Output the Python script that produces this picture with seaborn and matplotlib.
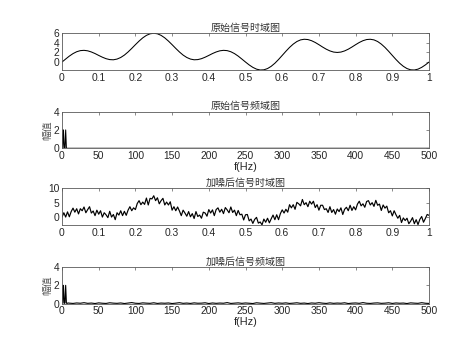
import numpy as np
import pandas as pd
import matplotlib
matplotlib.use("Agg")
import matplotlib.pyplot as plt
import seaborn as sns

# --- data ---
# original signal, sampled every 0.01 s
T_CLEAN = np.round(np.arange(0, 1.0001, 0.01), 3)
SIG_CLEAN = [0.00, 0.63, 1.24, 1.76, 2.15, 2.38, 2.44, 2.34, 2.10, 1.77,
             1.38, 1.01, 0.70, 0.51, 0.47, 0.62, 0.95, 1.45, 2.10, 2.84,
             3.62, 4.37, 5.04, 5.56, 5.89, 6.00, 5.89, 5.56, 5.04, 4.37,
             3.62, 2.84, 2.10, 1.45, 0.95, 0.62, 0.47, 0.51, 0.70, 1.01,
             1.38, 1.77, 2.10, 2.34, 2.44, 2.38, 2.15, 1.76, 1.24, 0.63,
             0.00, -0.60, -1.11, -1.48, -1.66, -1.62, -1.36, -0.89, -0.25, 0.53,
             1.38, 2.24, 3.05, 3.74, 4.28, 4.62, 4.75, 4.69, 4.45, 4.08,
             3.62, 3.13, 2.68, 2.32, 2.08, 2.00, 2.08, 2.32, 2.68, 3.13,
             3.62, 4.08, 4.45, 4.69, 4.75, 4.62, 4.28, 3.74, 3.05, 2.24,
             1.38, 0.53, -0.25, -0.89, -1.36, -1.62, -1.66, -1.48, -1.11, -0.60,
             0.00]

# noisy signal, sampled every 0.005 s
T_NOISY = np.round(np.arange(0, 1.0001, 0.005), 4)
SIG_NOISY = [0.0, 1.5, 0.0, 1.8, 0.1, 1.9, 3.1, 1.7, 2.9, 1.1,
             2.9, 2.2, 3.5, 1.5, 2.6, 3.6, 1.4, 2.1, 0.5, 2.4,
             1.0, 2.2, 0.0, 1.5, 0.8, -0.2, 2.0, 0.0, 0.9, -0.9,
             1.5, 0.7, 2.2, 0.5, 2.0, 0.6, 2.4, 3.6, 2.2, 3.2,
             2.6, 4.7, 5.7, 4.3, 5.2, 4.4, 6.6, 4.2, 6.5, 6.3,
             7.4, 5.7, 6.7, 4.6, 5.7, 6.5, 4.2, 5.2, 4.2, 5.3,
             2.4, 3.6, 2.2, 3.5, 2.1, 0.5, 2.4, 1.4, 0.3, 1.9,
             0.1, 1.2, -0.5, 1.9, 0.2, 0.7, -0.4, 1.7, 1.4, 0.3,
             2.6, 1.4, 2.5, 0.5, 2.6, 3.2, 1.7, 2.7, 1.2, 3.3,
             2.5, 1.5, 3.5, 1.6, 2.4, 0.5, 2.3, 0.8, 1.0, -1.0,
             0.8, 0.9, -1.3, -0.7, -2.2, -0.8, -0.1, -2.1, -1.7, -2.7,
             -0.7, -1.8, -0.4, -2.0, -0.6, 0.7, -0.9, 0.8, -0.9, 1.2,
             2.5, 1.4, 2.7, 1.7, 4.3, 3.2, 4.3, 2.7, 5.1, 4.6,
             3.9, 6.1, 4.3, 5.0, 3.6, 5.5, 4.5, 5.5, 3.3, 4.3,
             2.4, 4.1, 4.1, 2.6, 2.9, 1.6, 3.6, 1.6, 2.6, 1.0,
             2.8, 1.9, 3.2, 0.9, 2.7, 3.4, 2.2, 4.1, 2.3, 3.6,
             2.5, 4.5, 5.5, 3.9, 4.6, 3.4, 5.4, 5.7, 4.2, 5.0,
             3.7, 5.8, 4.1, 4.5, 2.3, 4.2, 3.1, 3.8, 1.5, 2.2,
             0.4, 2.2, 0.8, -0.4, 0.6, -1.9, -0.3, -1.2, -0.4, -2.3,
             -1.4, -0.2, -2.3, -0.9, -2.6, -0.8, 0.2, -1.8, -0.5, 0.9,
             0.6]

# spectra (Hz, amplitude)
F_CLEAN = [0, 1, 2, 3, 4, 5, 6, 500]
A_CLEAN = [2.0, 0.0, 2.0, 0.0, 0.0, 2.0, 0.0, 0.0]

F_NOISY_LOW = [0, 1, 2, 3, 4, 5, 6, 7, 8]
A_NOISY_LOW = [2.0, 0.05, 2.0, 0.04, 0.07, 2.0, 0.06, 0.03, 0.08]
F_NOISY_FLOOR = np.arange(10, 501, 5)
A_NOISY_FLOOR = [0.06, 0.03, 0.08, 0.05, 0.11, 0.04, 0.07, 0.02, 0.09, 0.05,
                 0.03, 0.10, 0.06, 0.04, 0.08, 0.02, 0.07, 0.12, 0.05, 0.03,
                 0.09, 0.06, 0.04, 0.10, 0.03, 0.07, 0.05, 0.08, 0.02, 0.06,
                 0.11, 0.04, 0.07, 0.03, 0.09, 0.05, 0.06, 0.10, 0.02, 0.08,
                 0.04, 0.07, 0.05, 0.12, 0.03, 0.06, 0.09, 0.04, 0.08, 0.05,
                 0.02, 0.10, 0.06, 0.03, 0.07, 0.11, 0.04, 0.08, 0.05, 0.09,
                 0.03, 0.06, 0.10, 0.04, 0.07, 0.02, 0.08, 0.05, 0.11, 0.06,
                 0.03, 0.09, 0.04, 0.07, 0.05, 0.10, 0.02, 0.06, 0.08, 0.04,
                 0.12, 0.05, 0.03, 0.07, 0.09, 0.04, 0.06, 0.10, 0.03, 0.08,
                 0.05, 0.07, 0.02, 0.09, 0.06, 0.04, 0.11, 0.05, 0.03]

TITLES = ["原始信号时域图", "原始信号频域图", "加噪后信号时域图", "加噪后信号频域图"]
T_TICKS = np.round(np.arange(0, 1.01, 0.1), 1)
T_LABELS = ["0", "0.1", "0.2", "0.3", "0.4", "0.5", "0.6", "0.7", "0.8", "0.9", "1"]
F_TICKS = list(range(0, 501, 50))

# --- style ---
sns.set_style("white")
plt.rcParams['font.family'] = ['Liberation Sans', 'Noto Sans CJK SC']
plt.rcParams['axes.unicode_minus'] = False
CJK = ['Noto Sans CJK SC', 'Liberation Sans']
EDGE = '#5a5a5a'


def style_axis(ax, title):
    for s in ax.spines.values():
        s.set_visible(True)
        s.set_color(EDGE)
        s.set_linewidth(0.6)
    ax.tick_params(direction='in', length=2.5, width=0.5, color=EDGE,
                   top=True, right=True, labelsize=7.4, labelcolor='#262626', pad=2)
    ax.set_title(title, fontsize=7.2, family=CJK, color='#333333', pad=1.5)
    ax.set_xlabel('')
    ax.set_ylabel('')


fig = plt.figure(figsize=(4.74, 3.55), dpi=100)
boxes = [0.8028, 0.5823, 0.3662, 0.1445]
axes = [fig.add_axes([0.1308, b, 0.7743, 0.1035]) for b in boxes]

df_clean = pd.DataFrame({'t': T_CLEAN, 'x': SIG_CLEAN})
df_noisy = pd.DataFrame({'t': T_NOISY, 'x': SIG_NOISY})
df_fc = pd.DataFrame({'f': F_CLEAN, 'a': A_CLEAN})
df_fn = pd.DataFrame({'f': list(F_NOISY_LOW) + list(F_NOISY_FLOOR),
                      'a': A_NOISY_LOW + A_NOISY_FLOOR})

# 1. original time domain
ax = axes[0]
sns.lineplot(data=df_clean, x='t', y='x', ax=ax, color='k', linewidth=0.75)
ax.set_xlim(0, 1)
ax.set_ylim(-1.66, 6)
ax.set_yticks([0, 2, 4, 6])
ax.set_xticks(T_TICKS)
ax.set_xticklabels(T_LABELS)
style_axis(ax, TITLES[0])

# 2. original spectrum
ax = axes[1]
sns.lineplot(data=df_fc, x='f', y='a', ax=ax, color='k', linewidth=0.75)
ax.set_xlim(0, 500)
ax.set_ylim(0, 4)
ax.set_yticks([0, 2, 4])
ax.set_xticks(F_TICKS)
style_axis(ax, TITLES[1])
ax.set_xlabel('f(Hz)', fontsize=7.8, labelpad=0.5, color='#262626')
ax.set_ylabel('幅值', fontsize=7, family=CJK, color='#555555', labelpad=1)

# 3. noisy time domain
ax = axes[2]
sns.lineplot(data=df_noisy, x='t', y='x', ax=ax, color='k', linewidth=0.85)
ax.set_xlim(0, 1)
ax.set_ylim(-2.75, 10)
ax.set_yticks([0, 5, 10])
ax.set_xticks(T_TICKS)
ax.set_xticklabels(T_LABELS)
style_axis(ax, TITLES[2])

# 4. noisy spectrum
ax = axes[3]
sns.lineplot(data=df_fn, x='f', y='a', ax=ax, color='k', linewidth=0.8)
ax.set_xlim(0, 500)
ax.set_ylim(0, 4)
ax.set_yticks([0, 2, 4])
ax.set_xticks(F_TICKS)
style_axis(ax, TITLES[3])
ax.set_xlabel('f(Hz)', fontsize=7.8, labelpad=0.5, color='#262626')
ax.set_ylabel('幅值', fontsize=7, family=CJK, color='#555555', labelpad=1)

fig.savefig('out.png', dpi=100, facecolor='white')
